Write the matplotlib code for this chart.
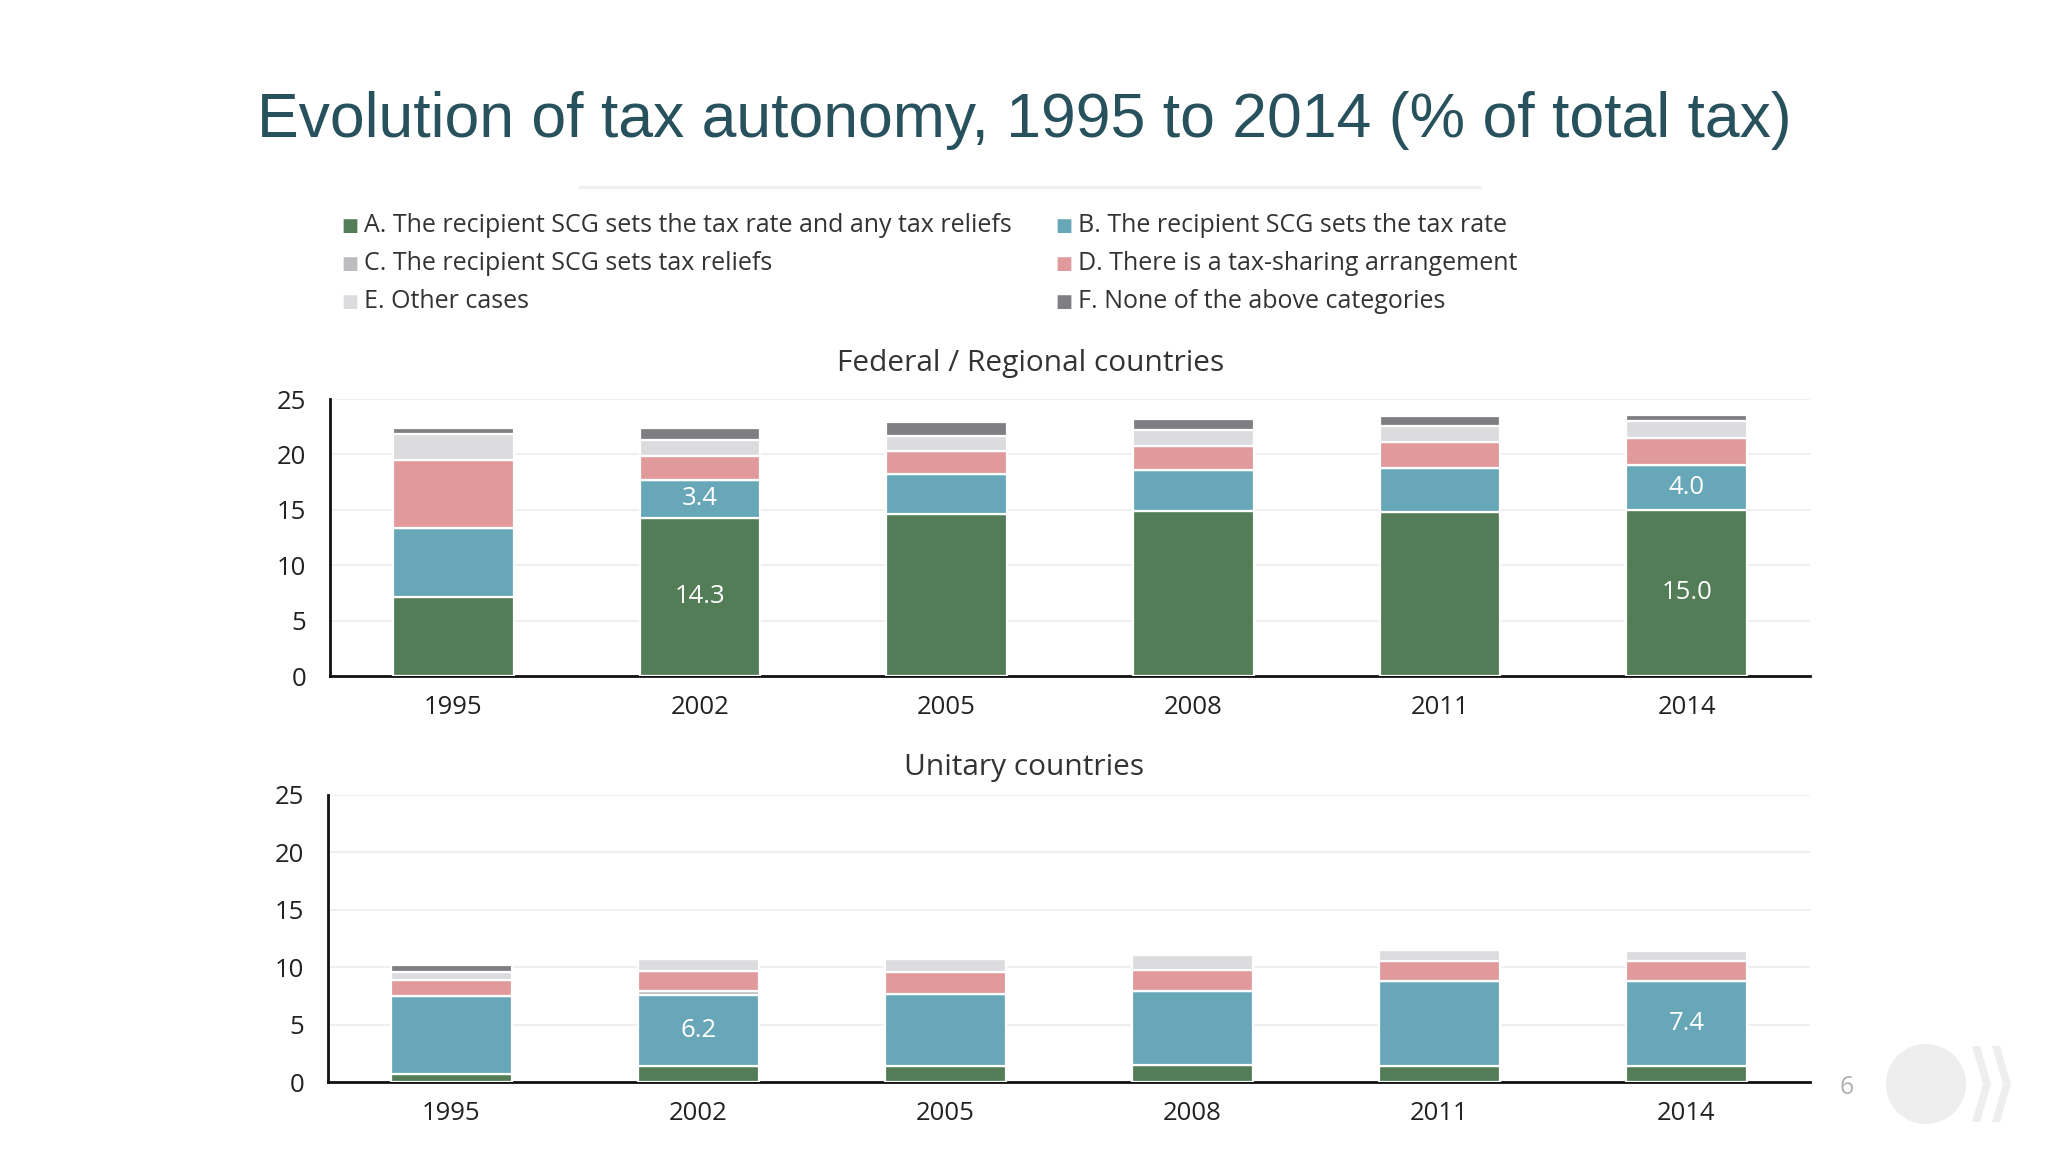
import matplotlib
matplotlib.use("Agg")
import matplotlib.pyplot as plt
import numpy as np
from matplotlib.patches import Ellipse, Polygon
from matplotlib.lines import Line2D

years = ["1995", "2002", "2005", "2008", "2011", "2014"]
categories = [
    "A. The recipient SCG sets the tax rate and any tax reliefs",
    "B. The recipient SCG sets the tax rate",
    "C. The recipient SCG sets tax reliefs",
    "D. There is a tax-sharing arrangement",
    "E. Other cases",
    "F. None of the above categories",
]
colors = ["#537d56", "#67a7b8", "#bdbcbf", "#e09a9b", "#dcdbde", "#7f7e82"]

# Federal / Regional countries
fed_A = [7.1, 14.3, 14.6, 14.9, 14.8, 15.0]
fed_B = [6.3, 3.4, 3.6, 3.7, 4.0, 4.0]
fed_C = [0.0, 0.0, 0.0, 0.0, 0.0, 0.0]
fed_D = [6.1, 2.2, 2.1, 2.2, 2.3, 2.5]
fed_E = [2.3, 1.4, 1.4, 1.4, 1.5, 1.5]
fed_F = [0.6, 1.1, 1.2, 1.0, 0.9, 0.6]

# Unitary countries
uni_A = [0.7, 1.4, 1.4, 1.45, 1.4, 1.4]
uni_B = [6.8, 6.2, 6.3, 6.5, 7.4, 7.4]
uni_C = [0.0, 0.3, 0.0, 0.0, 0.0, 0.0]
uni_D = [1.4, 1.8, 1.85, 1.8, 1.7, 1.7]
uni_E = [0.7, 1.0, 1.2, 1.3, 1.0, 0.9]
uni_F = [0.6, 0.0, 0.0, 0.0, 0.0, 0.0]

fed_labels = {("A", 1): 14.3, ("B", 1): 3.4, ("A", 5): 15.0, ("B", 5): 4.0}
uni_labels = {("B", 1): 6.2, ("B", 5): 7.4}

yticks = [0, 5, 10, 15, 20, 25]

FONT = "Open Sans"
plt.rcParams["font.family"] = [FONT, "DejaVu Sans"]

fig = plt.figure(figsize=(20.48, 11.52), dpi=100)
fig.patch.set_facecolor("white")

W, H = 2048, 1152


def fx(px):
    return px / W


def fy(py):
    return 1 - py / H


def draw(ax, series, labels, title, title_x, title_y):
    x = np.arange(len(years))
    bottom = np.zeros(len(years))
    keys = ["A", "B", "C", "D", "E", "F"]
    for k, vals, col in zip(keys, series, colors):
        vals = np.array(vals, dtype=float)
        ax.bar(x, vals, width=0.49, bottom=bottom, color=col,
               edgecolor="white", linewidth=1.6, zorder=3)
        for (kk, i), v in labels.items():
            if kk == k:
                ax.text(x[i], bottom[i] + vals[i] / 2, f"{v:.1f}",
                        ha="center", va="center", color="white",
                        fontsize=18.5, zorder=4)
        bottom += vals
    ax.set_xlim(-0.5, len(years) - 0.5)
    ax.set_ylim(0, 25)
    ax.set_yticks(yticks)
    ax.set_xticks(x)
    ax.set_xticklabels(years)
    ax.tick_params(axis="both", length=0, labelsize=18.5, colors="#222222")
    ax.tick_params(axis="y", pad=17)
    ax.tick_params(axis="x", pad=14)
    ax.grid(axis="y", color="#ececec", linewidth=1.2, zorder=0)
    for s in ["top", "right"]:
        ax.spines[s].set_visible(False)
    for s in ["left", "bottom"]:
        ax.spines[s].set_color("#111111")
        ax.spines[s].set_linewidth(2)
    ax.set_axisbelow(True)
    fig.text(fx(title_x), fy(title_y), title, ha="center", va="center",
             fontsize=21.5, color="#333333")


ax1 = fig.add_axes([fx(330), fy(676), fx(1810) - fx(330), fy(399) - fy(676)])
draw(ax1, [fed_A, fed_B, fed_C, fed_D, fed_E, fed_F], fed_labels,
     "Federal / Regional countries", 1031, 364)

ax2 = fig.add_axes([fx(328), fy(1082), fx(1810) - fx(328), fy(795) - fy(1082)])
draw(ax2, [uni_A, uni_B, uni_C, uni_D, uni_E, uni_F], uni_labels,
     "Unitary countries", 1024, 768)

# Title
fig.text(fx(1024), fy(121), "Evolution of tax autonomy, 1995 to 2014 (% of total tax)",
         ha="center", va="center", fontsize=45, color="#27515c",
         family=["Liberation Sans", "DejaVu Sans"])
# faint shadow under title
for i, a in enumerate([0.04, 0.09, 0.04]):
    fig.add_artist(Line2D([fx(580), fx(1480)], [fy(186 + i), fy(186 + i)],
                          color="#999999", alpha=a, linewidth=2))

# Legend (manual, two columns)
leg_pos = [(350, 226), (1064, 226), (350, 264), (1064, 264), (350, 302), (1064, 302)]
for (px, py), lab, col in zip(leg_pos, categories, colors):
    fig.text(fx(px), fy(py), "\u25A0", ha="center", va="center",
             fontsize=13, color=col, family=["DejaVu Sans"])
    fig.text(fx(px + 14), fy(py), lab, ha="left", va="center",
             fontsize=18, color="#333333")

# page number and faint logo
fig.text(fx(1847), fy(1087), "6", ha="center", va="center", fontsize=18, color="#b0b0b0")
r = 40
fig.add_artist(Ellipse((fx(1926), fy(1084)), 2 * r / W, 2 * r / H, transform=fig.transFigure,
                       facecolor="#eeeeef", edgecolor="none"))
for dx in [0, 20]:
    x0 = 1972 + dx
    pts = [(x0, 1046), (x0 + 8, 1046), (x0 + 19, 1084), (x0 + 8, 1122), (x0, 1122), (x0 + 11, 1084)]
    fig.add_artist(Polygon([(fx(a), fy(b)) for a, b in pts], closed=True,
                           transform=fig.transFigure, facecolor="#eeeeef", edgecolor="none"))

fig.savefig("out.png", dpi=100, facecolor="white")
